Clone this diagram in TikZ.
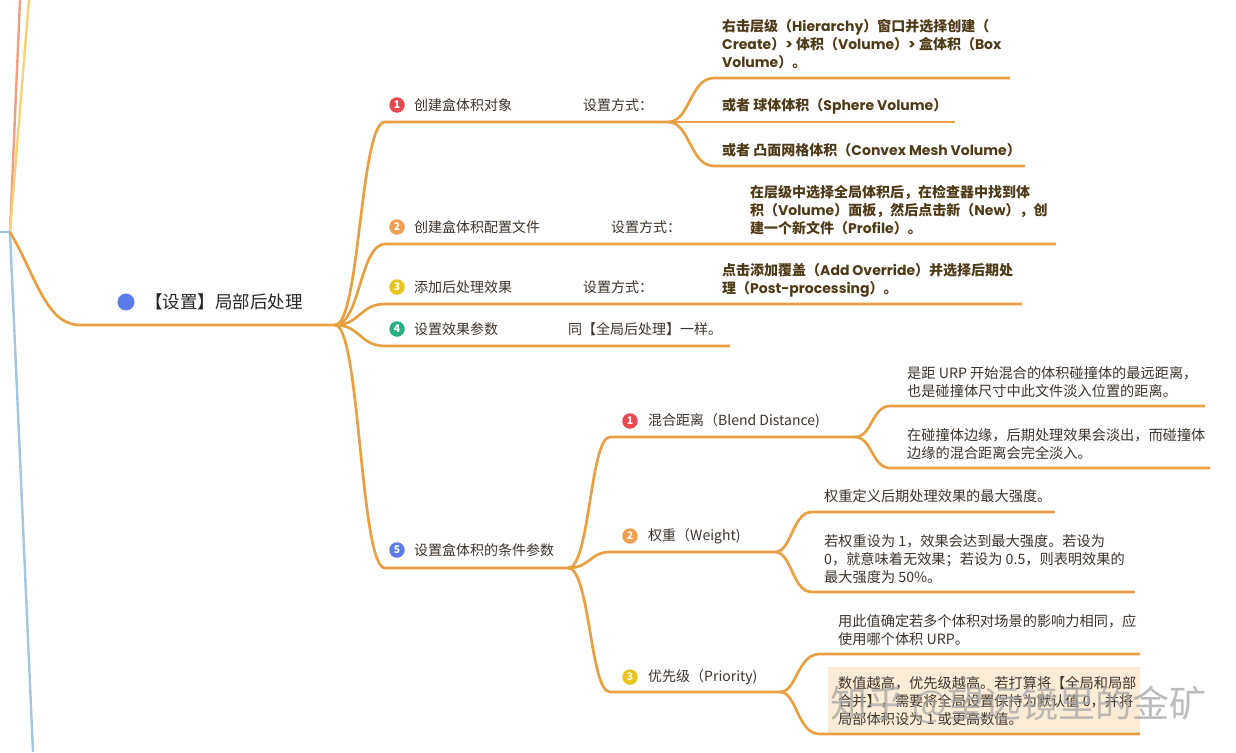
\documentclass[tikz,border=0pt]{standalone}
\usepackage{fontspec}
\setmainfont{Noto Sans CJK SC}
\newfontfamily\pop{Poppins}
\definecolor{brc}{RGB}{232,160,66}
\definecolor{salm}{RGB}{240,160,130}
\definecolor{ylw}{RGB}{246,210,120}
\definecolor{blu}{RGB}{165,198,224}
\definecolor{rootblue}{RGB}{92,124,234}
\definecolor{nred}{RGB}{232,72,80}
\definecolor{norg}{RGB}{240,160,80}
\definecolor{nylw}{RGB}{232,196,30}
\definecolor{ngrn}{RGB}{40,176,128}
\definecolor{nblu}{RGB}{92,124,234}
\definecolor{txt}{RGB}{60,52,44}
\definecolor{btxt}{RGB}{78,58,22}
\definecolor{peach}{RGB}{252,236,214}
\tikzset{
  br/.style={draw=brc, line width=2.7pt},
  lbl/.style={anchor=west, inner sep=0pt, text=txt, font=\fontsize{14}{18}\selectfont},
  bleaf/.style={anchor=north west, inner sep=0pt, align=left, text=btxt, font=\fontsize{14}{18}\selectfont\bfseries},
  leaf/.style={anchor=north west, inner sep=0pt, align=left, text=txt, font=\fontsize{14.2}{18}\selectfont},
  num/.style={circle, fill=#1, inner sep=0pt, minimum size=15.5pt, text=white, font=\fontsize{10.5}{10.5}\selectfont\bfseries},
}
\newcommand{\lat}[1]{{\pop\bfseries #1}}
\begin{document}
\begin{tikzpicture}[x=1pt,y=-1pt]
\useasboundingbox (0,0) rectangle (1236,752);
% left edge lines
\coordinate (j) at (10,232);
\coordinate (t1) at (20,0);
\coordinate (t2) at (29,0);
\coordinate (b1) at (33,752);
\coordinate (l0) at (0,232);
\draw[salm, line width=2.4pt] (j) -- (t1);
\draw[ylw, line width=2.4pt] (j) -- (t2);
\draw[blu, line width=2.4pt] (l0) -- (j) -- (b1);
% root
\coordinate (rfan) at (335,325);
\draw[br] (j) .. controls (36,276) and (46,325) .. (80,325) -- (rfan);
\node[circle, fill=rootblue, minimum size=17pt, inner sep=0pt] (rdot) at (126,302) {};
\node[anchor=west, inner sep=0pt, font=\fontsize{17.5}{20}\selectfont, text=black!85] (root) at (145,302) {【设置】局部后处理};
% level 1 branches
\coordinate (i1e) at (668,122);
\coordinate (i2e) at (1056,244);
\coordinate (i3e) at (1022,304);
\coordinate (i4e) at (730,346);
\coordinate (i5e) at (568,568);
\draw[br] (rfan) .. controls (360,325) and (360,122) .. (385,122) -- (i1e);
\draw[br] (rfan) .. controls (360,325) and (360,244) .. (385,244) -- (i2e);
\draw[br] (rfan) .. controls (360,325) and (360,304) .. (385,304) -- (i3e);
\draw[br] (rfan) .. controls (360,325) and (360,346) .. (385,346) -- (i4e);
\draw[br] (rfan) .. controls (360,325) and (360,568) .. (385,568) -- (i5e);
% item labels
\node[num=nred] (n1) at (397,105) {1};
\node[lbl] (i1) at (414,105) {创建盒体积对象};
\node[lbl] (i1m) at (583,105) {设置方式：};
\node[num=norg] (n2) at (397,227) {2};
\node[lbl] (i2) at (414,227) {创建盒体积配置文件};
\node[lbl] (i2m) at (611,227) {设置方式：};
\node[num=nylw] (n3) at (397,287) {3};
\node[lbl] (i3) at (414,287) {添加后处理效果};
\node[lbl] (i3m) at (583,287) {设置方式：};
\node[num=ngrn] (n4) at (397,329) {4};
\node[lbl] (i4) at (414,329) {设置效果参数};
\node[lbl] (i4m) at (568,329) {同【全局后处理】一样。};
\node[num=nblu] (n5) at (397,550) {5};
\node[lbl] (i5) at (414,550) {设置盒体积的条件参数};
% item 1 leaves
\coordinate (a1e) at (1010,78);
\coordinate (a2e) at (955,122);
\coordinate (a3e) at (1025,166);
\draw[br] (i1e) .. controls (690,122) and (690,78) .. (714,78) -- (a1e);
\draw[br] (i1e) -- (a2e);
\draw[br] (i1e) .. controls (690,122) and (690,166) .. (714,166) -- (a3e);
\node[bleaf] (a1) at (722,19.5) {右击层级（\lat{Hierarchy}）窗口并选择创建（\\\lat{Create}）\lat{>} 体积（\lat{Volume}）\lat{>} 盒体积（\lat{Box}\\\lat{Volume}）。};
\node[bleaf] (a2) at (722,98.5) {或者 球体体积（\lat{Sphere Volume}）};
\node[bleaf] (a3) at (722,143.5) {或者 凸面网格体积（\lat{Convex Mesh Volume}）};
% item 2 / 3 leaves
\node[bleaf] (b2) at (750,185.5) {在层级中选择全局体积后，在检查器中找到体\\积（\lat{Volume}）面板，然后点击新（\lat{New}），创\\建一个新文件（\lat{Profile}）。};
\node[bleaf] (b3) at (722,263.5) {点击添加覆盖（\lat{Add Override}）并选择后期处\\理（\lat{Post-processing}）。};
% item 5 sub-branches
\coordinate (s1e) at (855,437);
\coordinate (s2e) at (775,552);
\coordinate (s3e) at (780,692);
\draw[br] (i5e) .. controls (590,568) and (590,437) .. (610,437) -- (s1e);
\draw[br] (i5e) .. controls (590,568) and (590,552) .. (610,552) -- (s2e);
\draw[br] (i5e) .. controls (590,568) and (590,692) .. (610,692) -- (s3e);
\node[num=nred] (m1) at (630,421) {1};
\node[lbl] (s1) at (648,421) {混合距离（Blend Distance)};
\node[num=norg] (m2) at (630,536) {2};
\node[lbl] (s2) at (648,536) {权重（Weight)};
\node[num=nylw] (m3) at (630,677) {3};
\node[lbl] (s3) at (648,677) {优先级（Priority)};
% sub 1 leaves
\coordinate (c1e) at (1205,406);
\coordinate (c2e) at (1210,468);
\draw[br] (s1e) .. controls (872,437) and (872,406) .. (890,406) -- (c1e);
\draw[br] (s1e) .. controls (872,437) and (872,468) .. (890,468) -- (c2e);
\node[leaf] (c1) at (907,366) {是距 URP 开始混合的体积碰撞体的最远距离，\\也是碰撞体尺寸中此文件淡入位置的距离。};
\node[leaf] (c2) at (907,428) {在碰撞体边缘，后期处理效果会淡出，而碰撞体\\边缘的混合距离会完全淡入。};
% sub 2 leaves
\coordinate (d1e) at (1055,512);
\coordinate (d2e) at (1135,592);
\draw[br] (s2e) .. controls (792,552) and (792,512) .. (812,512) -- (d1e);
\draw[br] (s2e) .. controls (792,552) and (792,592) .. (812,592) -- (d2e);
\node[leaf] (d1) at (824,489) {权重定义后期处理效果的最大强度。};
\node[leaf] (d2) at (824,534) {若权重设为 1，效果会达到最大强度。若设为\\0，就意味着无效果；若设为 0.5，则表明效果的\\最大强度为 50\%。};
% sub 3 leaves
\coordinate (e1e) at (1140,654);
\coordinate (e2e) at (1140,734);
\fill[peach] (828,667) rectangle (1140,733);
\draw[br] (s3e) .. controls (797,692) and (797,654) .. (820,654) -- (e1e);
\draw[br] (s3e) .. controls (797,692) and (797,734) .. (820,734) -- (e2e);
\node[leaf] (e1) at (838,614) {用此值确定若多个体积对场景的影响力相同，应\\使用哪个体积 URP。};
\node[leaf] (e2) at (838,676) {数值越高，优先级越高。若打算将【全局和局部\\合并】，需要将全局设置保持为默认值 0，并将\\局部体积设为 1 或更高数值。};
% watermark
\node[anchor=west, inner sep=0pt, text=gray!70, opacity=0.75, font=\fontsize{37}{40}\selectfont] (wm) at (830,705) {知乎 @望远镜里的金矿};
\end{tikzpicture}
\end{document}
